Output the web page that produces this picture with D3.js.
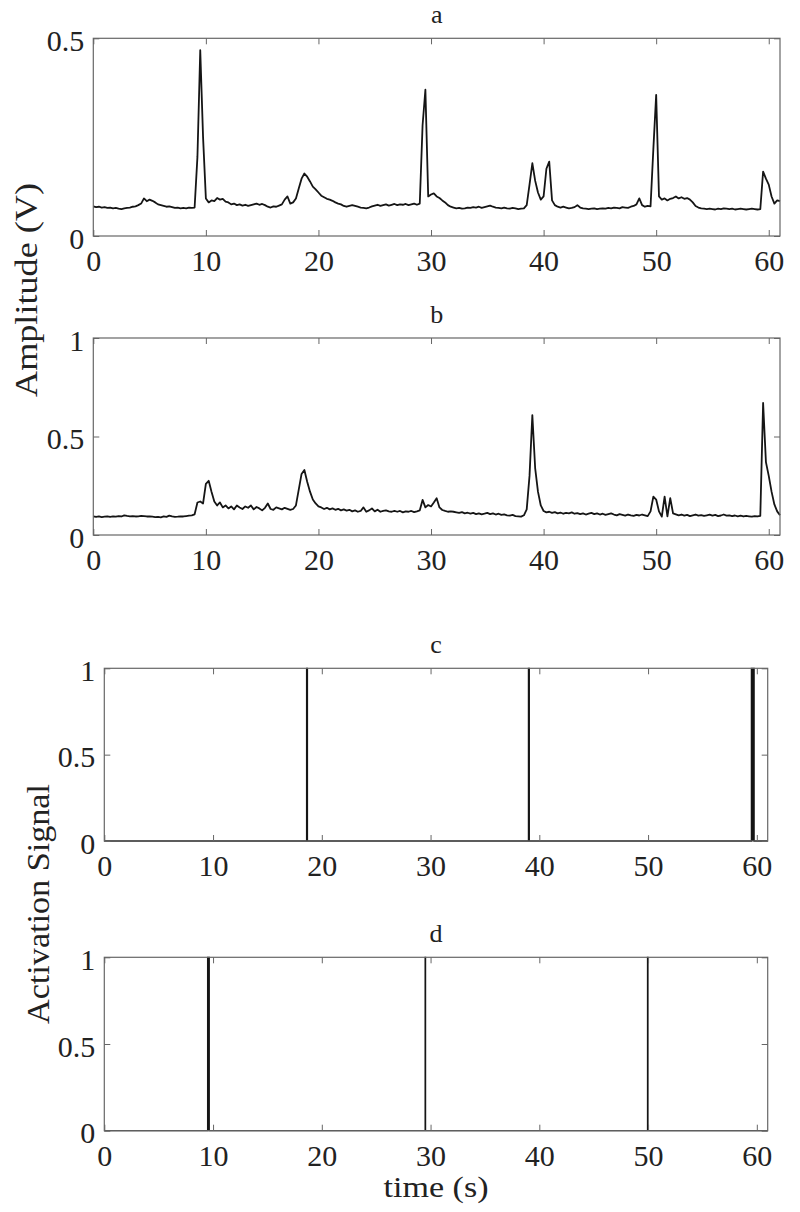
<!DOCTYPE html>
<html>
<head>
<meta charset="utf-8">
<script src="https://cdn.jsdelivr.net/npm/d3@7"></script>
<style>
  html, body { margin: 0; padding: 0; background: #fff; }
  svg { display: block; }
  text { font-family: "Liberation Serif", "Times New Roman", serif; fill: #222; }
</style>
</head>
<body>
<svg id="chart" width="800" height="1212"></svg>
<script>
// ---------------- data ----------------
const sampleStep = 0.25;               // seconds between samples
const xDomain = [0, 61];
const xTickValues = [0, 10, 20, 30, 40, 50, 60];
const yTicksA = [0, 0.5];
const yTicksB = [0, 0.5, 1];
const yTicksAct = [0, 0.5, 1];
const panelTitles = ["a", "b", "c", "d"];
const yLabelAmp = "Amplitude (V)";
const yLabelAct = "Activation Signal";
const xLabel = "time (s)";

// panel a amplitude (V), one value every 0.25 s from 0 to 61 s
const ampA = [
  0.075,0.073,0.074,0.072,0.073,0.071,0.072,0.070,0.071,0.069,0.068,0.070,0.071,0.072,0.074,0.075,
  0.078,0.082,0.095,0.088,0.092,0.089,0.085,0.080,
  0.078,0.076,0.074,0.075,0.073,0.071,0.072,0.070,0.071,0.070,0.072,0.071,
  0.072,0.200,0.470,0.250,
  0.095,0.085,0.090,0.088,0.096,0.092,0.094,0.087,
  0.085,0.080,0.082,0.078,0.080,0.077,0.079,0.076,0.078,0.080,0.082,0.079,
  0.081,0.078,0.074,0.072,0.075,0.074,0.077,0.080,0.092,0.100,0.082,0.085,
  0.095,0.120,0.145,0.158,0.150,0.138,0.125,0.118,
  0.110,0.102,0.098,0.094,0.092,0.089,0.085,0.082,0.080,0.076,0.074,0.076,
  0.078,0.076,0.074,0.072,0.071,0.070,0.072,0.075,0.077,0.079,0.076,0.078,0.080,0.077,0.079,0.081,
  0.078,0.080,0.079,0.081,0.078,0.080,0.082,0.079,
  0.082,0.280,0.370,0.100,
  0.105,0.108,0.100,0.096,0.090,0.085,0.078,0.074,
  0.072,0.070,0.071,0.069,0.070,0.072,0.071,0.073,0.072,0.074,
  0.071,0.073,0.075,0.077,0.074,0.072,0.071,0.070,0.072,0.070,
  0.069,0.071,0.070,0.068,0.069,0.070,
  0.078,0.130,0.184,0.140,0.110,0.092,0.100,0.170,0.188,0.090,
  0.078,0.074,0.072,0.074,0.072,0.070,0.071,0.073,0.078,0.072,
  0.070,0.069,0.068,0.069,0.070,0.068,0.069,0.070,0.069,0.071,
  0.070,0.072,0.071,0.070,0.073,0.072,0.071,0.074,
  0.076,0.080,0.095,0.078,0.074,0.076,0.075,0.220,
  0.357,0.100,0.092,0.095,0.090,0.094,0.096,0.100,0.095,0.098,0.094,0.096,0.092,0.085,0.076,0.072,
  0.070,0.069,0.068,0.069,0.068,0.067,0.069,0.068,0.070,0.069,0.068,0.069,0.067,0.068,0.069,0.068,0.067,0.068,0.069,0.068,0.067,0.068,
  0.163,0.145,0.130,0.100,0.082,0.090,0.088
];

// panel b amplitude (V), one value every 0.25 s from 0 to 61 s
const ampB = [
  0.095,0.092,0.094,0.091,0.093,0.095,0.092,0.094,0.093,0.096,
  0.094,0.100,0.097,0.095,0.096,0.094,0.095,0.097,0.096,0.094,
  0.095,0.093,0.091,0.092,0.090,0.094,0.092,0.098,0.094,0.092,
  0.093,0.095,0.094,0.096,0.098,0.100,
  0.105,0.165,0.170,0.160,
  0.260,0.275,0.220,0.170,0.150,0.165,0.140,0.150,
  0.135,0.145,0.130,0.150,0.140,0.132,0.145,0.138,0.150,0.130,
  0.142,0.135,0.125,0.138,0.160,0.132,0.128,0.140,0.135,0.130,
  0.138,0.133,0.128,0.132,
  0.150,0.230,0.310,0.330,0.270,0.220,0.180,0.160,
  0.145,0.140,0.132,0.138,0.130,0.135,0.128,0.133,0.125,0.130,
  0.124,0.128,0.120,0.125,0.118,0.122,0.140,0.118,0.125,0.135,
  0.120,0.128,0.118,0.122,0.125,0.120,0.118,0.122,
  0.118,0.122,0.115,0.120,0.118,0.122,0.116,0.120,0.125,0.178,
  0.140,0.152,0.145,0.165,0.187,0.140,0.127,0.122,0.118,0.120,
  0.118,0.115,0.112,0.116,0.110,0.113,0.108,0.112,0.106,0.110,
  0.105,0.108,0.112,0.106,0.110,0.104,0.108,0.102,0.105,0.100,
  0.098,0.102,0.096,0.095,0.093,0.100,
  0.130,0.300,0.609,0.340,0.220,0.150,
  0.122,0.115,0.118,0.112,0.116,0.110,0.114,0.108,0.112,0.110,
  0.115,0.108,0.111,0.106,0.110,0.104,0.108,0.112,0.106,0.110,
  0.104,0.108,0.102,0.106,0.110,0.104,0.100,0.106,0.102,0.098,
  0.104,0.100,0.097,0.102,0.099,0.104,0.100,0.096,0.120,
  0.195,0.180,0.120,0.093,0.195,0.095,0.187,0.110,0.105,
  0.100,0.104,0.098,0.102,0.096,0.100,0.104,0.098,0.101,0.097,
  0.100,0.103,0.098,0.102,0.096,0.099,0.104,0.098,0.100,0.096,
  0.099,0.095,0.098,0.094,0.097,0.095,0.093,0.096,0.094,0.097,
  0.670,0.370,0.300,0.220,0.155,0.120,0.100
];

// activation intervals [start, end] in seconds (signal = 1 inside)
const pulsesC = [[18.60, 18.68], [39.00, 39.08], [59.50, 59.75]];
const pulsesD = [[9.50, 9.65], [29.50, 29.54], [49.95, 49.99]];

// ---------------- layout ----------------
const svg = d3.select("#chart");
const FONT_TICK = 30;
const FONT_LABEL = 32;
const AXIS_COLOR = "#666";
const LINE_COLOR = "#151515";
const SERIF = '"Liberation Serif", "Times New Roman", serif';

const panels = [
  { title: panelTitles[0], left: 93.3, right: 780, top: 38.3, bottom: 236, yMax: 0.5, yTicks: yTicksA, kind: "amp", data: ampA },
  { title: panelTitles[1], left: 93.3, right: 780, top: 338, bottom: 535, yMax: 1, yTicks: yTicksB, kind: "amp", data: ampB },
  { title: panelTitles[2], left: 104.3, right: 767.7, top: 668.3, bottom: 841, yMax: 1, yTicks: yTicksAct, kind: "act", data: pulsesC },
  { title: panelTitles[3], left: 104.3, right: 767.7, top: 957.3, bottom: 1130.7, yMax: 1, yTicks: yTicksAct, kind: "act", data: pulsesD }
];

function stepPoints(pulses) {
  const pts = [[xDomain[0], 0]];
  pulses.forEach(([s, e]) => { pts.push([s, 0], [s, 1], [e, 1], [e, 0]); });
  pts.push([xDomain[1], 0]);
  return pts;
}

const fmt = d => String(d);

panels.forEach(p => {
  const x = d3.scaleLinear().domain(xDomain).range([p.left, p.right]);
  const y = d3.scaleLinear().domain([0, p.yMax]).range([p.bottom, p.top]);
  const g = svg.append("g");

  // signal
  if (p.kind === "amp") {
    const line = d3.line().x((d, i) => x(i * sampleStep)).y(d => y(d));
    g.append("path").datum(p.data)
      .attr("d", line).attr("fill", "none")
      .attr("stroke", LINE_COLOR).attr("stroke-width", 1.8)
      .attr("stroke-linejoin", "round");
  } else {
    const line = d3.line().x(d => x(d[0])).y(d => y(d[1]));
    g.append("path").datum(stepPoints(p.data))
      .attr("d", line).attr("fill", LINE_COLOR)
      .attr("stroke", LINE_COLOR).attr("stroke-width", 1.3);
  }

  // axes (MATLAB-style inward ticks, box)
  const axB = g.append("g").attr("transform", `translate(0,${p.bottom})`)
    .call(d3.axisBottom(x).tickValues(xTickValues).tickSizeInner(-6).tickSizeOuter(0).tickPadding(14).tickFormat(d3.format("d")));
  const axT = g.append("g").attr("transform", `translate(0,${p.top})`)
    .call(d3.axisTop(x).tickValues(xTickValues).tickSizeInner(-6).tickSizeOuter(0).tickFormat(""));
  const axL = g.append("g").attr("transform", `translate(${p.left},0)`)
    .call(d3.axisLeft(y).tickValues(p.yTicks).tickSizeInner(-6).tickSizeOuter(0).tickPadding(9).tickFormat(fmt));
  const axR = g.append("g").attr("transform", `translate(${p.right},0)`)
    .call(d3.axisRight(y).tickValues(p.yTicks).tickSizeInner(-6).tickSizeOuter(0).tickFormat(""));
  [axB, axT, axL, axR].forEach(a => {
    a.attr("font-family", SERIF).attr("font-size", FONT_TICK);
    a.select(".domain").remove();
    a.selectAll(".tick line").attr("stroke", AXIS_COLOR).attr("stroke-width", 1);
    a.selectAll(".tick text").style("font-size", FONT_TICK + "px")
      .style("font-family", SERIF).attr("fill", "#222");
  });
  axL.selectAll(".tick text").attr("dy", "0.4em");

  g.append("rect")
    .attr("x", p.left).attr("y", p.top)
    .attr("width", p.right - p.left).attr("height", p.bottom - p.top)
    .attr("fill", "none").attr("stroke", AXIS_COLOR).attr("stroke-width", 1.2);

  // title
  g.append("text")
    .attr("x", (p.left + p.right) / 2).attr("y", p.top - 15)
    .attr("text-anchor", "middle").style("font-size", "26px")
    .text(p.title);
});

// shared y labels
svg.append("text")
  .attr("transform", "translate(37,290) rotate(-90)")
  .attr("text-anchor", "middle").style("font-size", FONT_LABEL + "px")
  .attr("textLength", 214).attr("lengthAdjust", "spacingAndGlyphs")
  .text(yLabelAmp);
svg.append("text")
  .attr("transform", "translate(49,904) rotate(-90)")
  .attr("text-anchor", "middle").style("font-size", FONT_LABEL + "px")
  .attr("textLength", 240).attr("lengthAdjust", "spacingAndGlyphs")
  .text(yLabelAct);

// x label
svg.append("text")
  .attr("x", 436).attr("y", 1197)
  .attr("text-anchor", "middle").style("font-size", "29px")
  .attr("textLength", 105).attr("lengthAdjust", "spacingAndGlyphs")
  .text(xLabel);
</script>
</body>
</html>
